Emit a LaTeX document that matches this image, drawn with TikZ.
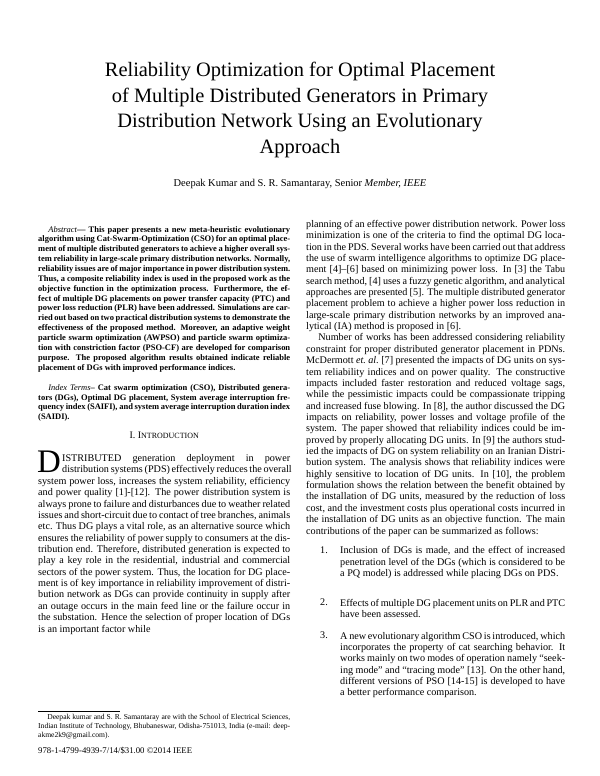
\documentclass[tikz,border=0pt]{standalone}
\usepackage{fontspec}
\setmainfont{Liberation Serif}
\usetikzlibrary{calc}
\begin{document}
\emergencystretch=10bp
\begin{tikzpicture}[x=1bp,y=-1bp,
  body/.style={anchor=north west,inner sep=0,text width=252bp,align=justify,font=\fontsize{10.2}{11.4}\selectfont},
  bsmall/.style={body,font=\fontsize{8.5}{9.9}\selectfont\bfseries},
  num/.style={anchor=north west,inner sep=0,font=\fontsize{10.2}{11.4}\selectfont},
  oneline/.style={anchor=base west,inner sep=0,font=\fontsize{10.2}{11.4}\selectfont}]
\useasboundingbox[fill=white] (0,0) rectangle (600,776);
\node[anchor=north,inner sep=0,align=center,font=\fontsize{20.5}{25.6}\selectfont] (title) at (300,62)
 {Reliability Optimization for Optimal Placement\\ of Multiple Distributed Generators in Primary\\ Distribution Network Using an Evolutionary\\ Approach};
\node[anchor=north,inner sep=0,font=\fontsize{10.5}{12}\selectfont] (auth) at (300,179) {Deepak Kumar and S.\ R.\ Samantaray, Senior \textit{Member, IEEE}};
\node[bsmall] (abs) at (38,226)
 {\hspace*{1.2em}\textit{\mdseries Abstract}--- This paper presents a new meta-heuristic evolutionary algorithm using Cat-Swarm-Optimization (CSO) for an optimal placement of multiple distributed generators to achieve a higher overall system reliability in large-scale primary distribution networks. Normally, reliability issues are of major importance in power distribution system. Thus, a composite reliability index is used in the proposed work as the objective function in the optimization process. Furthermore, the effect of multiple DG placements on power transfer capacity (PTC) and power loss reduction (PLR) have been addressed. Simulations are carried out based on two practical distribution systems to demonstrate the effectiveness of the proposed method. Moreover, an adaptive weight particle swarm optimization (AWPSO) and particle swarm optimization with constriction factor (PSO-CF) are developed for comparison purpose. The proposed algorithm results obtained indicate reliable placement of DGs with improved performance indices.};
\node[bsmall] (idx) at ($(abs.south west)+(0,12)$)
 {\hspace*{1.2em}\textit{\mdseries Index Terms}-- Cat swarm optimization (CSO), Distributed generators (DGs), Optimal DG placement, System average interruption frequency index (SAIFI), and system average interruption duration index (SAIDI).};
\node[anchor=north,inner sep=0,font=\fontsize{10}{11}\selectfont] (sec) at ($(idx.south)+(0,10)$) {I. I{\fontsize{8}{9}\selectfont NTRODUCTION}};
\node[anchor=base west,inner sep=0,font=\fontsize{33}{33}\selectfont] (D) at (37,472.5) {D};
\node[oneline] (l1) at (62,461) {\hbox to 228bp{ISTRIBUTED generation deployment in power}};
\node[oneline] (l2) at (62,472.4) {\hbox to 228bp{distribution systems (PDS) effectively reduces the overall}};
\node[body] (intro) at (38,477)
 {system power loss, increases the system reliability, efficiency and power quality [1]-[12]. The power distribution system is always prone to failure and disturbances due to weather related issues and short-circuit due to contact of tree branches, animals etc. Thus DG plays a vital role, as an alternative source which ensures the reliability of power supply to consumers at the distribution end. Therefore, distributed generation is expected to play a key role in the residential, industrial and commercial sectors of the power system. Thus, the location for DG placement is of key importance in reliability improvement of distribution network as DGs can provide continuity in supply after an outage occurs in the main feed line or the failure occur in the substation. Hence the selection of proper location of DGs is an important factor while};
\draw[line width=0.4bp] (38,711) -- (120,711);
\node[body,font=\fontsize{7.6}{9}\selectfont] (fn) at (38,714)
 {\hspace*{1.2em}Deepak kumar and S.\ R.\ Samantaray are with the School of Electrical Sciences, Indian Institute of Technology, Bhubaneswar, Odisha-751013, India (e-mail: deepakme2k9@gmail.com).};
\node[anchor=north west,inner sep=0,font=\fontsize{8.8}{10}\selectfont] (isbn) at (38,747) {978-1-4799-4939-7/14/\$31.00 \textcopyright 2014 IEEE};
\node[body,text width=259bp] (r1) at (306,220)
 {planning of an effective power distribution network. Power loss minimization is one of the criteria to find the optimal DG location in the PDS. Several works have been carried out that address the use of swarm intelligence algorithms to optimize DG placement [4]--[6] based on minimizing power loss. In [3] the Tabu search method, [4] uses a fuzzy genetic algorithm, and analytical approaches are presented [5]. The multiple distributed generator placement problem to achieve a higher power loss reduction in large-scale primary distribution networks by an improved analytical (IA) method is proposed in [6].\par
 \hspace*{1.2em}Number of works has been addressed considering reliability constraint for proper distributed generator placement in PDNs. McDermott \textit{et.\ al.}\ [7] presented the impacts of DG units on system reliability indices and on power quality. The constructive impacts included faster restoration and reduced voltage sags, while the pessimistic impacts could be compassionate tripping and increased fuse blowing. In [8], the author discussed the DG impacts on reliability, power losses and voltage profile of the system. The paper showed that reliability indices could be improved by properly allocating DG units. In [9] the authors studied the impacts of DG on system reliability on an Iranian Distribution system. The analysis shows that reliability indices were highly sensitive to location of DG units. In [10], the problem formulation shows the relation between the benefit obtained by the installation of DG units, measured by the reduction of loss cost, and the investment costs plus operational costs incurred in the installation of DG units as an objective function. The main contributions of the paper can be summarized as follows:};
\node[body,text width=225bp] (i1) at ($(r1.south west)+(34,10)$) {Inclusion of DGs is made, and the effect of increased penetration level of the DGs (which is considered to be a PQ model) is addressed while placing DGs on PDS.};
\node[num] (n1) at ($(i1.north west)+(-20,0)$) {1.};
\node[body,text width=225bp] (i2) at ($(i1.south west)+(0,20)$) {Effects of multiple DG placement units on PLR and PTC have been assessed.};
\node[num] (n2) at ($(i2.north west)+(-20,0)$) {2.};
\node[body,text width=225bp] (i3) at ($(i2.south west)+(0,14)$) {A new evolutionary algorithm CSO is introduced, which incorporates the property of cat searching behavior. It works mainly on two modes of operation namely ``seeking mode'' and ``tracing mode'' [13]. On the other hand, different versions of PSO [14-15] is developed to have a better performance comparison.};
\node[num] (n3) at ($(i3.north west)+(-20,0)$) {3.};
\end{tikzpicture}
\end{document}
